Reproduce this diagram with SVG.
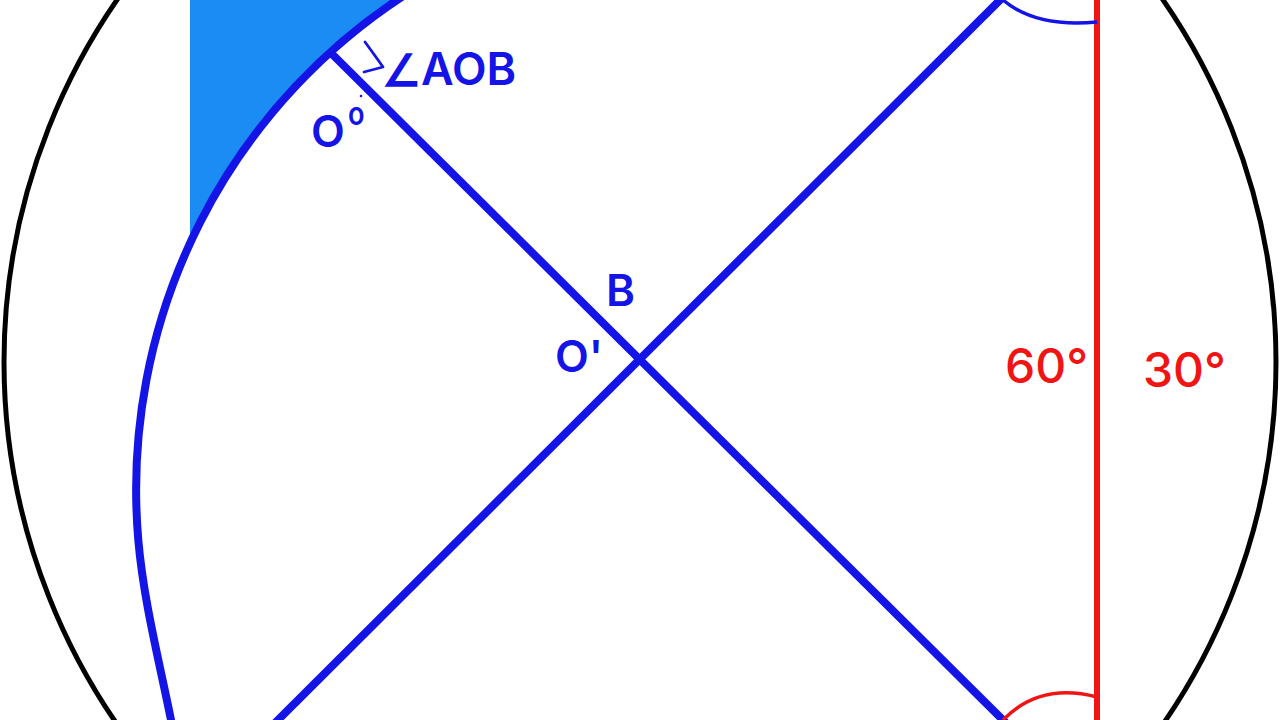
<svg xmlns="http://www.w3.org/2000/svg" width="1280" height="720" viewBox="0 0 1280 720">
<style>
.bl{fill:none;stroke:#1414E6;stroke-width:8;stroke-linecap:butt}
.thin-b{fill:none;stroke:#1414E6;stroke-width:3.5}
.thin-r{fill:none;stroke:#F01414;stroke-width:3.5}
.tb{font-family:Inter,"Liberation Sans",sans-serif;font-weight:600;fill:#1414E6}
.tr{font-family:Inter,"Liberation Sans",sans-serif;font-weight:500;fill:#F01414}
</style>
<rect width="1280" height="720" fill="#ffffff"/>
<g id="fill-region">
<path d="M190,0 L397.1,0 A589.5,589.5 0 0 0 190,243.2 Z" fill="#1C8CF5"/>
</g>
<g id="outer-circle">
<circle cx="640" cy="362" r="636" fill="none" stroke="#000000" stroke-width="5"/>
</g>
<g id="connectors">
<path class="bl" d="M420.7,-15 A589.5,589.5 0 0 0 138.3,540 C143.4,599.8 159.2,661.2 171,720 L175,740"/>
<line class="bl" x1="1006" y1="-6" x2="272" y2="726"/>
<line class="bl" x1="331" y1="53" x2="1009" y2="726"/>
<line x1="1097" y1="0" x2="1097" y2="720" stroke="#F01414" stroke-width="6"/>
<path class="thin-b" d="M1003,0 Q1036,28 1097,22"/>
<path class="thin-r" d="M1003,720 Q1040,682 1097,697"/>
</g>
<g id="label-angle">
<path d="M365,42 Q376,57 383,67 L364,72" fill="none" stroke="#1414E6" stroke-width="2.8" stroke-linecap="round" stroke-linejoin="round"/>
<text class="tb" x="401" y="86" font-size="44" text-anchor="middle">∠</text>
<text class="tb" x="421" y="85" font-size="45">AOB</text>
</g>
<g id="label-O">
<text class="tb" x="311" y="147" font-size="44">O</text>
<text class="tb" font-size="32" transform="translate(348,125) scale(0.85,1)">o</text>
<circle cx="361" cy="96" r="1.3" fill="#1414E6"/>
</g>
<g id="label-B">
<text class="tb" x="606" y="306" font-size="44">B</text>
</g>
<g id="label-Oprime">
<text class="tb" x="555" y="372" font-size="44">O'</text>
</g>
<g id="label-60">
<text class="tr" x="1005" y="383" font-size="48">60°</text>
</g>
<g id="label-30">
<text class="tr" x="1143" y="387" font-size="48">30°</text>
</g>
</svg>
